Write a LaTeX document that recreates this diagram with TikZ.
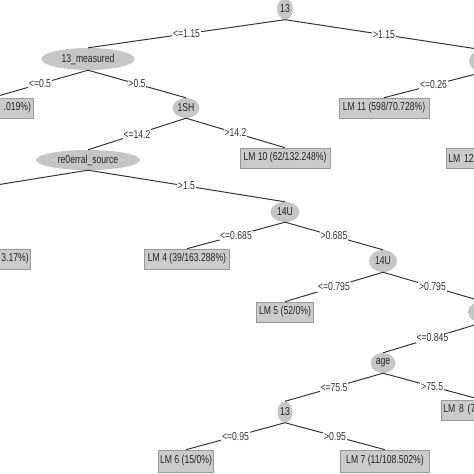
\documentclass[tikz,border=0pt]{standalone}
\usepackage{fontspec}
\setmainfont{Liberation Sans}[FakeStretch=0.75]
\usetikzlibrary{shapes.geometric}
\definecolor{ellgray}{HTML}{C6C6C6}
\definecolor{boxgray}{HTML}{CBCBCB}
\definecolor{boxline}{HTML}{9A9A9A}
\definecolor{linegray}{HTML}{363636}
\tikzset{
  split/.style={ellipse, fill=ellgray, inner sep=0pt},
  leaf/.style={rectangle, fill=boxgray, draw=boxline, line width=0.6pt, inner sep=0pt, minimum height=20pt},
  conn/.style={draw=linegray, line width=1pt},
  lab/.style={fill=white, inner sep=0.8pt, midway, text=linegray}
}
\begin{document}
\begin{tikzpicture}[x=1pt, y=-1pt, font=\fontsize{11.5}{13}\selectfont, text=black!85]
\useasboundingbox (0,0) rectangle (474,474);
\clip (0,0) rectangle (474,474);
% split nodes
\node[split, minimum width=16pt, minimum height=21pt] (root) at (285,9) {13};
\node[split, minimum width=93pt, minimum height=22pt] (m13) at (88,59) {13\_measured};
\node[split, minimum width=28pt, minimum height=22pt] (R1) at (483,61) {};
\node[split, minimum width=27pt, minimum height=20pt] (SH) at (186,108) {1SH};
\node[split, minimum width=104pt, minimum height=20pt] (ref) at (88,160) {re0erral\_source};
\node[split, minimum width=29pt, minimum height=20pt] (U1) at (285,212) {14U};
\node[split, minimum width=28pt, minimum height=22pt] (U2) at (383,261) {14U};
\node[split, minimum width=28pt, minimum height=21pt] (R2) at (482,312) {};
\node[split, minimum width=25pt, minimum height=20pt] (age) at (383,363) {age};
\node[split, minimum width=15pt, minimum height=21pt] (T13) at (285,412) {13};
\coordinate (refL) at (-109,202);
% leaves
\node[leaf, text width=78pt, align=right, inner xsep=2pt] (leafA) at (-8,108) {.019\%)};
\node[leaf, minimum width=90pt] (lm11) at (384,108) {LM 11 (598/70.728\%)};
\node[leaf, minimum width=90pt] (lm10) at (285,158) {LM 10 (62/132.248\%)};
\node[leaf, anchor=west, text width=86pt, align=left, inner xsep=2pt] (lm12) at (446,158) {LM 12};
\node[leaf, anchor=east, text width=78pt, align=right, inner xsep=2pt] (leafB) at (31,259) {3.17\%)};
\node[leaf, minimum width=85pt] (lm4) at (187,259) {LM 4 (39/163.288\%)};
\node[leaf, minimum width=57pt] (lm5) at (285,312) {LM 5 (52/0\%)};
\node[leaf, anchor=west, text width=76pt, align=left, inner xsep=2pt] (lm8) at (441,410) {LM 8 (7};
\node[leaf, minimum width=55pt, minimum height=22pt] (lm6) at (186,461) {LM 6 (15/0\%)};
\node[leaf, minimum width=89pt, minimum height=22pt] (lm7) at (385,461) {LM 7 (11/108.502\%)};
% connectors
\draw[conn] (root.south) -- node[lab] {<=1.15} (m13.north);
\draw[conn] (root.south) -- node[lab] {>1.15} (R1.north);
\draw[conn] (m13.south) -- node[lab] {<=0.5} (leafA.north);
\draw[conn] (m13.south) -- node[lab] {>0.5} (SH.north);
\draw[conn] (R1.south) -- node[lab] {<=0.26} (lm11.north);
\draw[conn] (SH.south) -- node[lab] {<=14.2} (ref.north);
\draw[conn] (SH.south) -- node[lab] {>14.2} (lm10.north);
\draw[conn] (ref.south) -- (refL);
\draw[conn] (ref.south) -- node[lab] {>1.5} (U1.north);
\draw[conn] (U1.south) -- node[lab] {<=0.685} (lm4.north);
\draw[conn] (U1.south) -- node[lab] {>0.685} (U2.north);
\draw[conn] (U2.south) -- node[lab] {<=0.795} (lm5.north);
\draw[conn] (U2.south) -- node[lab] {>0.795} (R2.north);
\draw[conn] (R2.south) -- node[lab] {<=0.845} (age.north);
\draw[conn] (age.south) -- node[lab] {<=75.5} (T13.north);
\draw[conn] (age.south) -- node[lab] {>75.5} (lm8.north);
\draw[conn] (T13.south) -- node[lab] {<=0.95} (lm6.north);
\draw[conn] (T13.south) -- node[lab] {>0.95} (lm7.north);
\end{tikzpicture}
\end{document}
